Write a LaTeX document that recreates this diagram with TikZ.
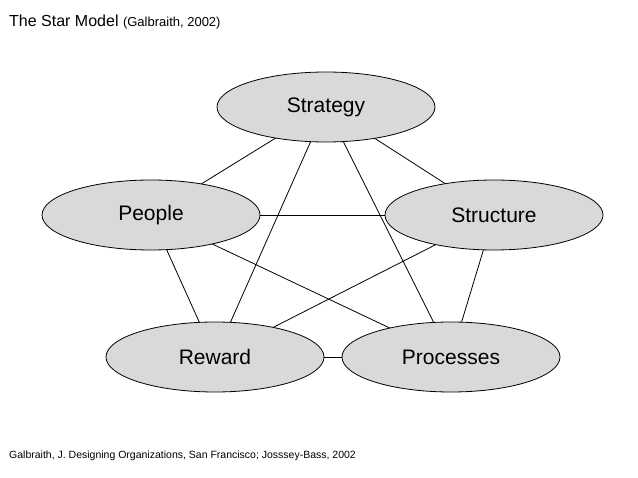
\documentclass[tikz,border=0pt]{standalone}
\usepackage{fontspec}
\setmainfont{Liberation Sans}
\usetikzlibrary{shapes.geometric,backgrounds}
\begin{document}
\begin{tikzpicture}[x=1pt,y=-1pt,
  elli/.style={ellipse,draw,thick,fill=gray!30,minimum width=218pt,minimum height=70pt,inner sep=0pt,font=\fontsize{21}{24}\selectfont},
  link/.style={draw,thick}]
\useasboundingbox (0,0) rectangle (638,478);
\node[elli] (str) at (326,107) {Strategy};
\node[elli] (peo) at (151,215) {People};
\node[elli] (stu) at (494,215) {Structure};
\node[elli] (rew) at (215,357) {Reward};
\node[elli] (pro) at (451,357) {Processes};
\begin{scope}[on background layer]
\draw[link] (str.center) -- (peo.center);
\draw[link] (str.center) -- (stu.center);
\draw[link] (str.center) -- (rew.center);
\draw[link] (str.center) -- (pro.center);
\draw[link] (peo.center) -- (stu.center);
\draw[link] (peo.center) -- (rew.center);
\draw[link] (peo.center) -- (pro.center);
\draw[link] (stu.center) -- (rew.center);
\draw[link] (stu.center) -- (pro.center);
\draw[link] (rew.center) -- (pro.center);
\end{scope}
\node[anchor=west,inner sep=0pt] (title) at (9,22) {\fontsize{16}{18}\selectfont The Star Model \fontsize{13}{15}\selectfont(Galbraith, 2002)};
\node[anchor=west,inner sep=0pt] (ref) at (9,456) {\fontsize{10.5}{12}\selectfont Galbraith, J. Designing Organizations, San Francisco; Josssey-Bass, 2002};
\end{tikzpicture}
\end{document}
